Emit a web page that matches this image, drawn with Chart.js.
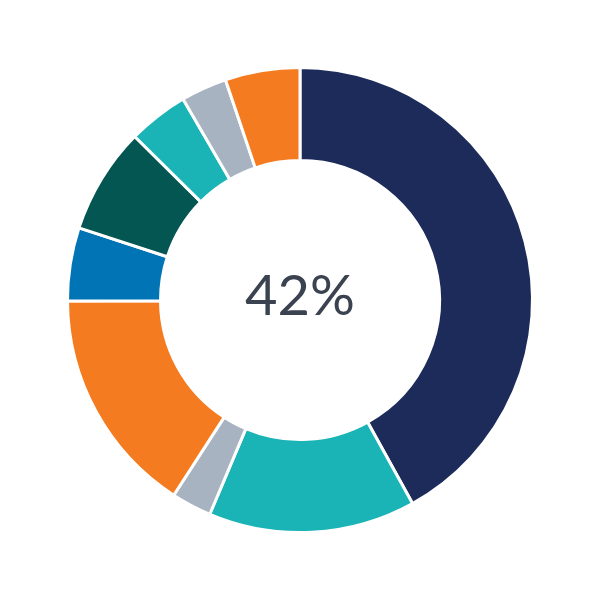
<!DOCTYPE html>
<html>
<head>
<meta charset="utf-8">
<script src="https://cdn.jsdelivr.net/npm/chart.js@4/dist/chart.umd.min.js"></script>
<style>
  html, body { margin: 0; padding: 0; background: #fff; }
  #wrap { position: relative; width: 600px; height: 600px; }
  #centro {
    position: absolute; left: 0; top: -7px; width: 600px; height: 600px;
    display: flex; align-items: center; justify-content: center;
    font-family: Lato, "Open Sans", sans-serif; font-size: 56px; color: #3b4250;
    pointer-events: none;
  }
</style>
</head>
<body>
<div id="wrap">
  <canvas id="grafico" width="600" height="600"></canvas>
  <div id="centro">42%</div>
</div>
<script>
const categorias = ['A', 'B', 'C', 'D', 'E', 'F', 'G', 'H', 'I'];
const valores    = [42, 14.4, 2.8, 15.8, 5.1, 7.4, 4.2, 3.2, 5.2];
const cores      = ['#1c2b5a', '#1ab4b7', '#a8b3c1', '#f47b20', '#0174b5', '#035652', '#1ab4b7', '#a8b3c1', '#f47b20'];

new Chart(document.getElementById('grafico').getContext('2d'), {
    type: 'doughnut',
    data: {
        labels: categorias,
        datasets: [{
            data: valores,
            backgroundColor: cores,
            borderColor: '#fff',
            borderWidth: 3
        }]
    },
    options: {
        responsive: false,
        animation: false,
        cutout: '60%',
        layout: { padding: 66 },
        plugins: { legend: { display: false }, tooltip: { enabled: false } }
    }
});
</script>
</body>
</html>
